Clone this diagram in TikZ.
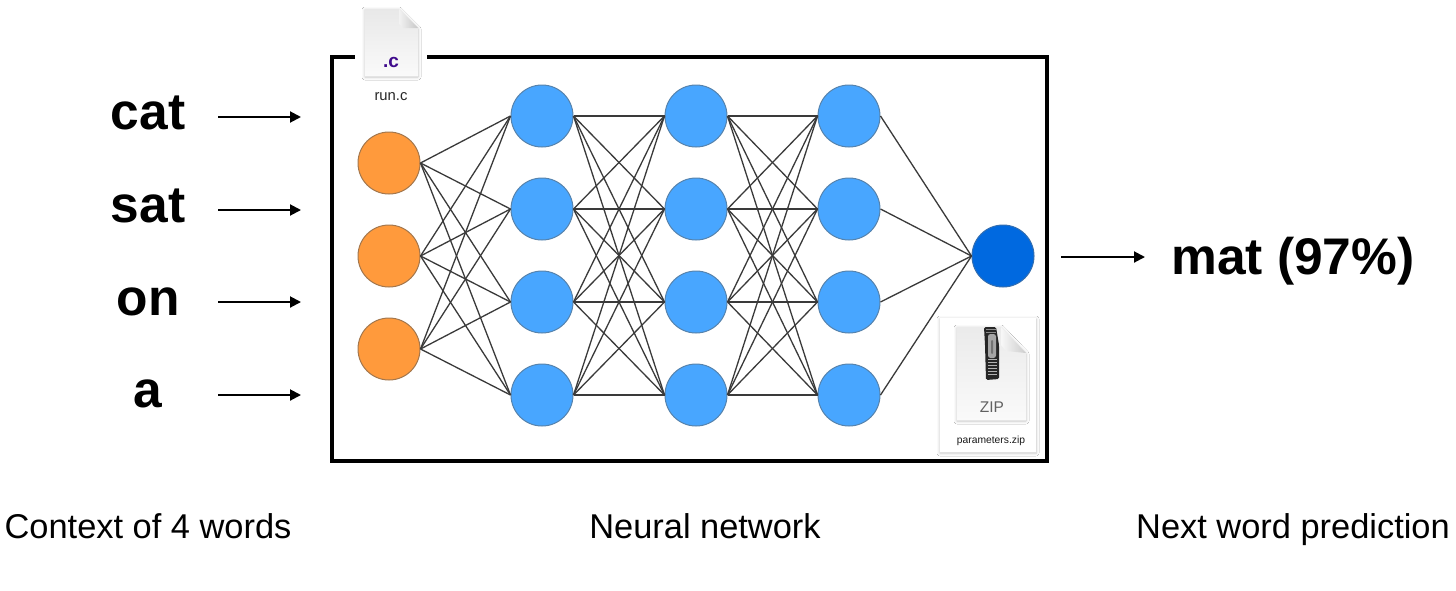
\documentclass[tikz,border=0pt]{standalone}
\usepackage{fontspec}
\setmainfont{Liberation Sans}
\usetikzlibrary{arrows.meta,shadows.blur,calc}
\definecolor{orangeN}{HTML}{FF9A3C}
\definecolor{blueN}{HTML}{48A6FF}
\definecolor{blueO}{HTML}{0069E0}
\definecolor{linkC}{HTML}{3A3A3A}
\definecolor{cPurple}{HTML}{3F0A8C}
\tikzset{
  x=1pt,y=-1pt,
  neuronbase/.style={circle,minimum size=62pt,inner sep=0pt,line width=1pt},
  inN/.style={neuronbase,fill=orangeN,draw=orangeN!55!black!80},
  hidN/.style={neuronbase,fill=blueN,draw=blueN!60!black!80},
  outN/.style={neuronbase,fill=blueO,draw=blueO!70!black!80},
  link/.style={draw=linkC,line width=1.3pt},
  arrowline/.style={draw=black,line width=2pt,-{Triangle[length=11pt,width=11pt]}},
  word/.style={font=\fontsize{51.5}{54}\selectfont\bfseries,inner sep=0pt,anchor=base},
  caption/.style={font=\fontsize{34.4}{38}\selectfont,inner sep=0pt,anchor=base},
  softshadow/.style={blur shadow={shadow blur steps=14,shadow xshift=0pt,shadow yshift=-1pt,shadow blur radius=3pt,shadow opacity=22}},
}
\begin{document}
\begin{tikzpicture}
\useasboundingbox (0,0) rectangle (1456,590);
\fill[white] (0,0) rectangle (1456,590);
% frame
\draw[black,line width=4pt] (332,57) rectangle (1047,461);
\fill[white] (355,48) rectangle (427,68);
% neurons and links
\foreach \n/\y in {1/163,2/256,3/349} \node[inN] (i\n) at (389,\y) {};
\foreach \c/\x in {a/542,b/696,c/849}
  \foreach \n/\y in {1/116,2/209,3/302,4/395}
    \node[hidN] (\c\n) at (\x,\y) {};
\node[outN] (o) at (1003,256) {};
\foreach \n in {1,2,3} \foreach \m in {1,2,3,4} \draw[link] (i\n.east) -- (a\m.west);
\foreach \n in {1,2,3,4} \foreach \m in {1,2,3,4} \draw[link] (a\n.east) -- (b\m.west);
\foreach \n in {1,2,3,4} \foreach \m in {1,2,3,4} \draw[link] (b\n.east) -- (c\m.west);
\foreach \n in {1,2,3,4} \draw[link] (c\n.east) -- (o.west);
% input words
\node[word] (w1) at (148,129) {cat};
\node[word] (w2) at (148,222) {sat};
\node[word] (w3) at (148,315) {on};
\node[word] (w4) at (148,407) {a};
\node[word] (w5) at (1293,274) {mat (97\%)};
\coordinate (s1) at (218,117); \coordinate (e1) at (301,117);
\coordinate (s2) at (218,210); \coordinate (e2) at (301,210);
\coordinate (s3) at (218,302); \coordinate (e3) at (301,302);
\coordinate (s4) at (218,395); \coordinate (e4) at (301,395);
\coordinate (s5) at (1061,257); \coordinate (e5) at (1145,257);
\foreach \k in {1,...,5} \draw[arrowline] (s\k) -- (e\k);
% captions
\node[caption] (c1) at (148,538) {Context of 4 words};
\node[caption] (c2) at (705,538) {Neural network};
\node[caption] (c3) at (1293,538) {Next word prediction};
% run.c icon
\path[softshadow,fill=black!8] (365,9) -- (399,9) -- (418,28) -- (418,76) -- (365,76) -- cycle;
\shade[top color=black!9,bottom color=black!2] (365,9) -- (399,9) -- (418,28) -- (418,76) -- (365,76) -- cycle;
\shade[left color=black!5,right color=black!22] (399,9) -- (418,28) -- (403,28) -- (399,24) -- cycle;
\node[inner sep=0pt,text=cPurple,font=\fontsize{19}{20}\selectfont\bfseries] (cicon) at (391,62) {.c};
\node[inner sep=0pt,font=\fontsize{14.8}{16}\selectfont,text=black!85] (runc) at (391,97) {run.c};
% parameters.zip panel
\path[softshadow,fill=white] (940,318) rectangle (1036,452);
\path[softshadow,fill=black!6] (957,327) -- (1001,327) -- (1026,353) -- (1026,420) -- (957,420) -- cycle;
\shade[top color=black!8,bottom color=black!2] (957,327) -- (1001,327) -- (1026,353) -- (1026,420) -- (957,420) -- cycle;
\shade[left color=black!3,right color=black!20] (1001,327) -- (1026,353) -- (1006,351) -- (1001,345) -- cycle;
\fill[black!85,rounded corners=1.5pt] (984,327) -- (996,327) -- (999,345) -- (999,379) -- (986,380) -- (985,345) -- cycle;
\foreach \yy in {329,332} \draw[black!45,line width=0.9pt] (986,\yy) -- (996,\yy);
\foreach \yy in {359,362,...,374} \draw[black!30,line width=0.9pt] (988,\yy) -- (997,\yy);
\fill[black!35,rounded corners=2.5pt] (988,334) rectangle (996,358);
\fill[black!55,rounded corners=1pt] (991,340) rectangle (993,354);
\node[inner sep=0pt,text=black!62,font=\fontsize{15.5}{17}\selectfont] (zipl) at (992,407) {ZIP};
\node[inner sep=0pt,font=\fontsize{10.3}{12}\selectfont,text=black!90] (zipn) at (991,441) {parameters.zip};
\end{tikzpicture}
\end{document}
